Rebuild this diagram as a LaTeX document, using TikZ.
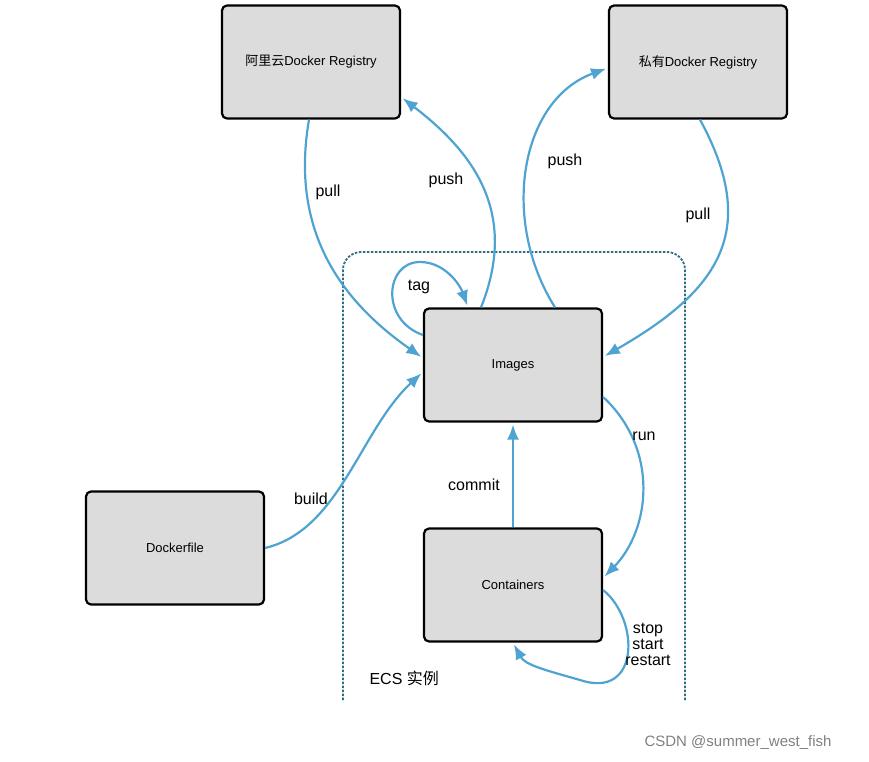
\documentclass[tikz,border=0pt]{standalone}
\usepackage{fontspec}
\setmainfont{Liberation Sans}
\newfontfamily\cjk{Noto Sans CJK SC}
\usetikzlibrary{arrows.meta}
\definecolor{flow}{HTML}{4EA3D3}
\definecolor{frame}{HTML}{2E6C84}
\definecolor{boxgray}{HTML}{DCDCDC}

\tikzset{
	box/.style={draw=black, line width=2.2pt, fill=boxgray, rounded corners=5pt, minimum width=178pt, minimum height=113pt, font=\fontsize{13}{15}\selectfont},
	flowline/.style={draw=flow, line width=2.2pt, -{Latex[length=15pt,width=12pt]}, shorten >=2pt},
	lbl/.style={font=\fontsize{16}{18}\selectfont}
}

\begin{document}
\begin{tikzpicture}[x=1pt, y=-1pt]
		\useasboundingbox (0,0) rectangle (869,762);
		
		% ECS frame
		\draw [frame, dash pattern=on 2.5pt off 1.5pt, line width=1.8pt, rounded corners=18pt] (343,700) -- (343,252) -- (685,252) -- (685,700);
		\node [lbl, anchor=west] (ecs) at (366,678) {ECS {\cjk 实例}};
		
		% Boxes
		\node [box] (ali) at (311,62) {{\cjk 阿里云}Docker Registry};
		\node [box] (priv) at (698,62) {{\cjk 私有}Docker Registry};
		\node [box] (img) at (513,365) {Images};
		\node [box] (dfile) at (175,548) {Dockerfile};
		\node [box] (cont) at (513,585) {Containers};
		
		% Registry arrows
		\draw [flowline] ([xshift=-2pt]ali.south) .. controls (290,230) and (340,300) .. ([yshift=7pt]img.west);
		\draw [flowline] ([xshift=-32pt]img.north) .. controls (520,210) and (470,150) .. ([yshift=-35pt]ali.east);
		\draw [flowline] ([xshift=42pt]img.north) .. controls (500,220) and (520,100) .. ([yshift=-6pt]priv.west);
		\draw [flowline] ([xshift=2pt]priv.south) .. controls (760,230) and (720,290) .. ([yshift=8pt]img.east);
		\node [lbl] (pullL) at (328,192) {pull};
		\node [lbl] (pushL) at (446,180) {push};
		\node [lbl] (pushR) at (565,161) {push};
		\node [lbl] (pullR) at (698,215) {pull};
		
		% Tag loop
		\draw [flowline] ([yshift=30pt]img.west) .. controls (380,320) and (385,262) .. (420,262) .. controls (445,262) and (460,285) .. ([xshift=-45pt]img.north);
		\node [lbl] (tag) at (419,287) {tag};
		
		% Build
		\draw [flowline] (dfile.east) .. controls (340,530) and (360,430) .. ([yshift=-7pt]img.west);
		\node [lbl] (build) at (311,499) {build};
		
		% Commit
		\draw [flowline] (cont.north) -- (img.south);
		\node [lbl] (commit) at (474,485) {commit};
		
		% Run
		\draw [flowline] ([yshift=-32pt]img.east) .. controls (660,450) and (650,530) .. ([yshift=7pt]cont.east);
		\node [lbl] (run) at (644,436) {run};
		
		% Stop / start / restart
		\draw [flowline] ([yshift=-5pt]cont.east) .. controls (640,620) and (640,700) .. (580,680) .. controls (545,670) and (525,665) .. (cont.south);
		\node [lbl, align=center] (ssr) at (648,644) {stop\\[-2pt]start\\[-2pt]restart};
		
		% Watermark
		\node [text=gray, font=\fontsize{15}{17}\selectfont] (mark) at (738,743) {CSDN @summer\_west\_fish};
		
\end{tikzpicture}
\end{document}
